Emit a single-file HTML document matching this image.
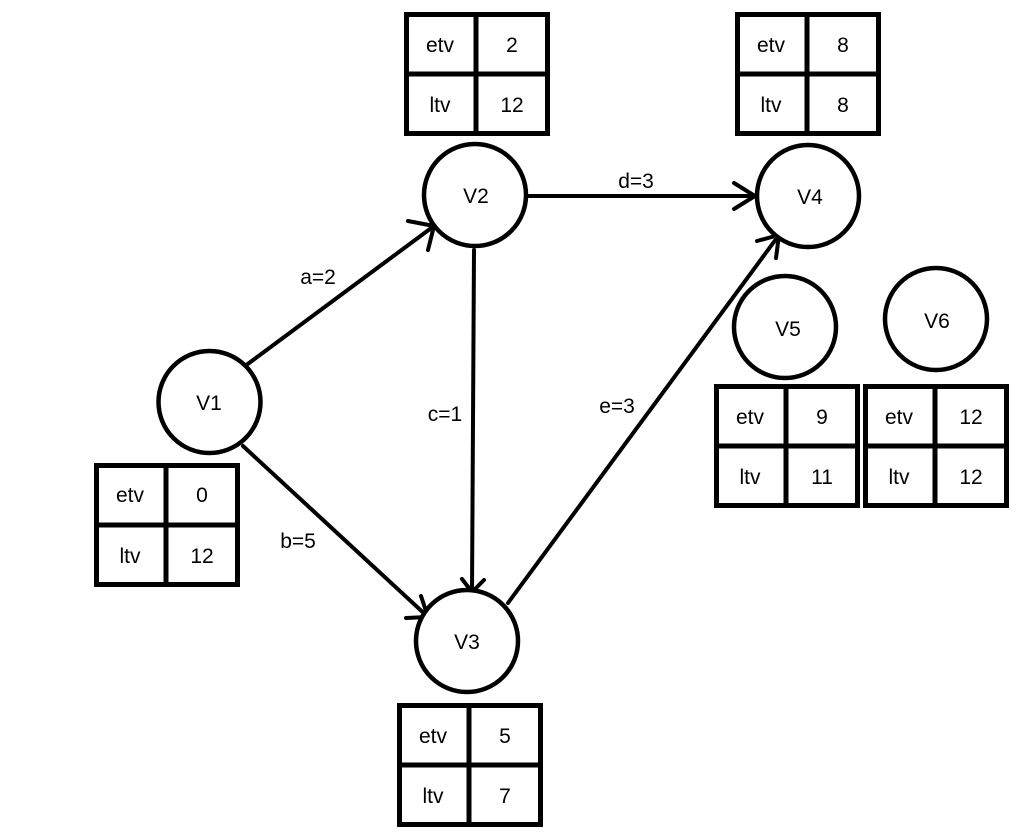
<!DOCTYPE html>
<html><head><meta charset="utf-8"><style>
html,body{margin:0;padding:0;background:#fff;}
svg{display:block;}
text{font-family:"Liberation Sans","DejaVu Sans",sans-serif;font-size:21px;fill:#000;}
</style></head><body>
<svg width="1018" height="835" viewBox="0 0 1018 835" xmlns="http://www.w3.org/2000/svg">
<defs>
<g id="tbl">
<rect x="2.5" y="2.5" width="141" height="119" fill="#fff" stroke="#000" stroke-width="5"/>
<line x1="72" y1="0" x2="72" y2="124" stroke="#000" stroke-width="5"/>
<line x1="0" y1="62" x2="146" y2="62" stroke="#000" stroke-width="5"/>
</g>
</defs>
<g fill="none" stroke="#000" stroke-width="4" stroke-linecap="round">
<line x1="245" y1="366" x2="434" y2="226"/>
<polyline points="408,221 434,226 428,250"/>
<line x1="243" y1="446" x2="428" y2="617"/>
<polyline points="421,596 428,617 406,618"/>
<line x1="474" y1="250" x2="472" y2="592"/>
<polyline points="462,579 472,592 484,580"/>
<line x1="528" y1="196" x2="755" y2="196"/>
<polyline points="734,183 755,196 734,209"/>
<line x1="508" y1="603" x2="779" y2="235"/>
<polyline points="757,241 779,235 776,258"/>
</g>
<g fill="#fff" stroke="#000" stroke-width="4.5">
<circle cx="209.5" cy="402" r="51"/>
<circle cx="475" cy="195" r="51"/>
<circle cx="467" cy="641" r="51"/>
<circle cx="808" cy="196" r="51"/>
<circle cx="785" cy="327" r="51"/>
<circle cx="936" cy="319" r="51"/>
</g>
<g text-anchor="middle">
<text x="209" y="410">V1</text>
<text x="476" y="203">V2</text>
<text x="467" y="649">V3</text>
<text x="810" y="204">V4</text>
<text x="788" y="336">V5</text>
<text x="937" y="328">V6</text>
<text x="318" y="284">a=2</text>
<text x="298" y="548">b=5</text>
<text x="445" y="421">c=1</text>
<text x="636" y="188">d=3</text>
<text x="617" y="413">e=3</text>
</g>
<g transform="translate(94,463)"><use href="#tbl"/><g text-anchor="middle"><text x="36" y="39">etv</text><text x="108" y="39">0</text><text x="36" y="100">ltv</text><text x="108" y="100">12</text></g></g>
<g transform="translate(404,12)"><use href="#tbl"/><g text-anchor="middle"><text x="36" y="40">etv</text><text x="108" y="40">2</text><text x="36" y="100">ltv</text><text x="108" y="100">12</text></g></g>
<g transform="translate(397,703)"><use href="#tbl"/><g text-anchor="middle"><text x="36" y="40">etv</text><text x="108" y="40">5</text><text x="36" y="100">ltv</text><text x="108" y="100">7</text></g></g>
<g transform="translate(735,12)"><use href="#tbl"/><g text-anchor="middle"><text x="36" y="40">etv</text><text x="108" y="40">8</text><text x="36" y="100">ltv</text><text x="108" y="100">8</text></g></g>
<g transform="translate(714,384)"><use href="#tbl"/><g text-anchor="middle"><text x="36" y="40">etv</text><text x="108" y="40">9</text><text x="36" y="100">ltv</text><text x="108" y="100">11</text></g></g>
<g transform="translate(863,384)"><use href="#tbl"/><g text-anchor="middle"><text x="36" y="40">etv</text><text x="108" y="40">12</text><text x="36" y="100">ltv</text><text x="108" y="100">12</text></g></g>
</svg>
</body></html>
